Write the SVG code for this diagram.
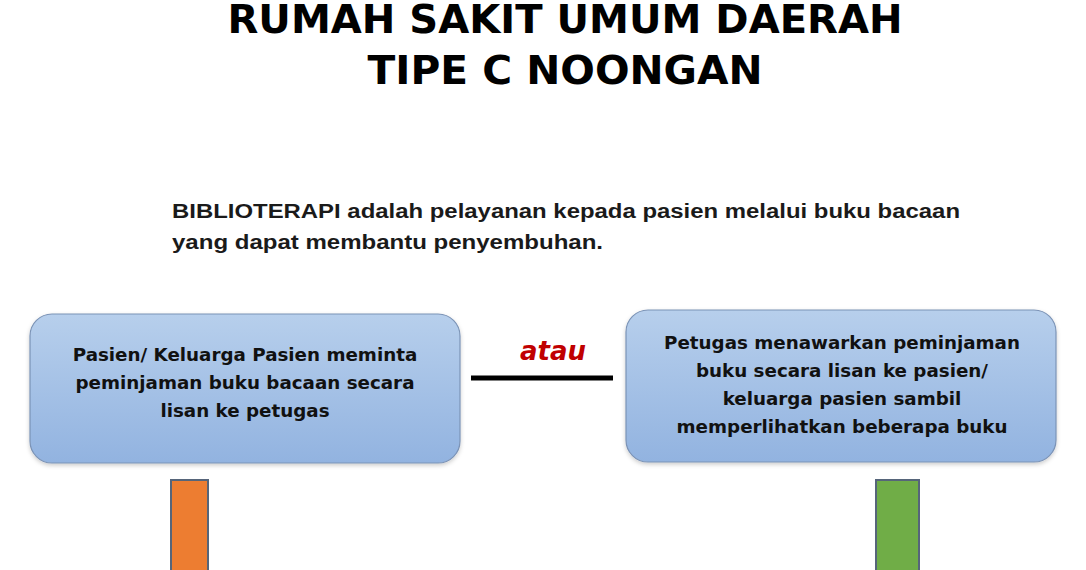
<svg xmlns="http://www.w3.org/2000/svg" width="1086" height="570" viewBox="0 0 1086 570">
<style>
.title{font-family:"DejaVu Sans",Verdana,sans-serif;font-weight:bold;font-size:39px;fill:#000;text-anchor:middle}
.para{font-family:"Liberation Sans",Arial,sans-serif;font-weight:bold;font-size:20px;fill:#1a1a1a}
.box{stroke:#7b93b6;stroke-width:1.2;fill:url(#g)}
.bt{font-family:"DejaVu Sans",Verdana,sans-serif;font-weight:bold;font-size:18.3px;fill:#111;text-anchor:middle}
.atau{font-family:"DejaVu Sans",Verdana,sans-serif;font-weight:bold;font-style:italic;font-size:26px;fill:#c00000;text-anchor:middle}
.bar{stroke:#56657a;stroke-width:2}
</style>
<defs>
<linearGradient id="g" x1="0" y1="0" x2="0" y2="1">
<stop offset="0" stop-color="#b7cfec"/>
<stop offset="1" stop-color="#92b3e0"/>
</linearGradient>
<filter id="sh" x="-5%" y="-5%" width="110%" height="115%">
<feDropShadow dx="0" dy="2" stdDeviation="2" flood-color="#000" flood-opacity="0.2"/>
</filter>
</defs>
<rect width="1086" height="570" fill="#fff"/>
<g id="title">
<text class="title" x="565" y="33" textLength="675" lengthAdjust="spacingAndGlyphs">RUMAH SAKIT UMUM DAERAH</text>
<text class="title" x="565" y="84" textLength="395" lengthAdjust="spacingAndGlyphs">TIPE C NOONGAN</text>
</g>
<g id="desc">
<text class="para" x="172" y="218" textLength="788" lengthAdjust="spacingAndGlyphs">BIBLIOTERAPI adalah pelayanan kepada pasien melalui buku bacaan</text>
<text class="para" x="172" y="249" textLength="431" lengthAdjust="spacingAndGlyphs">yang dapat membantu penyembuhan.</text>
</g>
<g id="node-left">
<rect class="box" x="30" y="314" width="430" height="149" rx="22" filter="url(#sh)"/>
<text class="bt" x="245" y="361">Pasien/ Keluarga Pasien meminta</text>
<text class="bt" x="245" y="389">peminjaman buku bacaan secara</text>
<text class="bt" x="245" y="417">lisan ke petugas</text>
</g>
<g id="node-right">
<rect class="box" x="626" y="310" width="430" height="152" rx="22" filter="url(#sh)"/>
<text class="bt" x="842" y="349">Petugas menawarkan peminjaman</text>
<text class="bt" x="842" y="377">buku secara lisan ke pasien/</text>
<text class="bt" x="842" y="405">keluarga pasien sambil</text>
<text class="bt" x="842" y="433">memperlihatkan beberapa buku</text>
</g>
<g id="connectors">
<line x1="471" y1="378" x2="613" y2="378" stroke="#000" stroke-width="5"/>
<text class="atau" x="553" y="360">atau</text>
<rect class="bar" x="171" y="480" width="37" height="95" fill="#ed7d31"/>
<rect class="bar" x="876" y="480" width="43" height="95" fill="#70ad47"/>
</g>
</svg>
